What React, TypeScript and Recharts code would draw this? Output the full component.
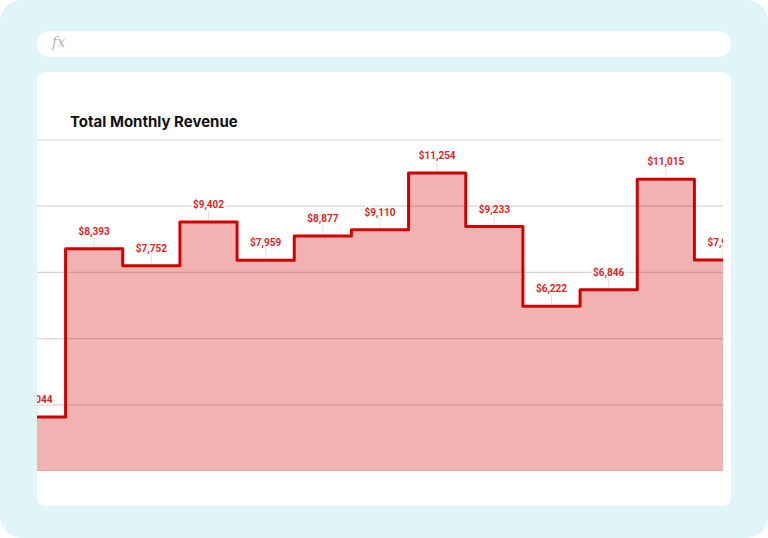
import React from "react";
import { AreaChart, Area, XAxis, YAxis, CartesianGrid, LabelList } from "recharts";

const months = [
  "Dec 22", "Jan 23", "Feb 23", "Mar 23", "Apr 23", "May 23", "Jun 23",
  "Jul 23", "Aug 23", "Sep 23", "Oct 23", "Nov 23", "Dec 23",
];
const revenue = [2044, 8393, 7752, 9402, 7959, 8877, 9110, 11254, 9233, 6222, 6846, 11015, 7965];
const yTicks = [0, 2500, 5000, 7500, 10000, 12500];

const data = months.map((month, i) => ({ month, revenue: revenue[i] }));

const RED = "#d10000";

const fmt = (v: number) => "$" + v.toLocaleString("en-US");

// label with a small leader line down to the step
const ValueLabel = (props: any) => {
  const { x, y, value } = props;
  if (x == null || y == null) return null;
  return (
    <g>
      <line x1={x} x2={x} y1={y - 12} y2={y - 2} stroke="#e2ded8" strokeWidth={1} />
      <text
        x={x}
        y={y - 14}
        textAnchor="middle"
        fill="#e02424"
        stroke="#fff"
        strokeWidth={3}
        paintOrder="stroke"
        style={{ fontFamily: "Roboto, sans-serif", fontSize: 10, fontWeight: 700 }}
      >
        {fmt(value)}
      </text>
    </g>
  );
};

export default function App() {
  return (
    <div
      style={{
        position: "fixed",
        left: 0,
        top: 0,
        width: 768,
        height: 538,
        background: "#ffffff",
      }}
    >
      <div
        style={{
          position: "absolute",
          inset: 0,
          background: "#e0f5f7",
          borderRadius: 22,
        }}
      />
      {/* formula bar */}
      <div
        style={{
          position: "absolute",
          left: 37,
          top: 31,
          width: 694,
          height: 26,
          background: "#fff",
          borderRadius: 13,
        }}
      >
        <span
          style={{
            position: "absolute",
            left: 15,
            top: 3,
            fontFamily: "'DejaVu Serif', serif",
            fontStyle: "italic",
            fontSize: 14,
            color: "#b5b5b5",
          }}
        >
          fx
        </span>
      </div>
      {/* card */}
      <div
        style={{
          position: "absolute",
          left: 37,
          top: 72,
          width: 694,
          height: 434,
          background: "#fff",
          borderRadius: 8,
          overflow: "hidden",
        }}
      >
        <div
          style={{
            position: "absolute",
            left: 33,
            top: 40,
            fontFamily: "Inter, sans-serif",
            fontWeight: 700,
            fontSize: 15,
            color: "#111",
          }}
        >
          Total Monthly Revenue
        </div>
        <div style={{ position: "absolute", left: 0, top: 58, width: 686, height: 341, overflow: "hidden" }}>
          <AreaChart width={686} height={341} data={data} margin={{ top: 10, right: 0, bottom: 0, left: 0 }}>
            <CartesianGrid vertical={false} stroke="#d9d5cd" strokeWidth={1.2} />
            <XAxis dataKey="month" hide />
            <YAxis domain={[0, 12500]} ticks={yTicks} hide />
            <Area
              type="step"
              dataKey="revenue"
              stroke={RED}
              strokeWidth={3}
              fill={RED}
              fillOpacity={0.3}
              isAnimationActive={false}
              strokeLinejoin="round"
            >
              <LabelList dataKey="revenue" content={<ValueLabel />} />
            </Area>
          </AreaChart>
        </div>
      </div>
    </div>
  );
}
